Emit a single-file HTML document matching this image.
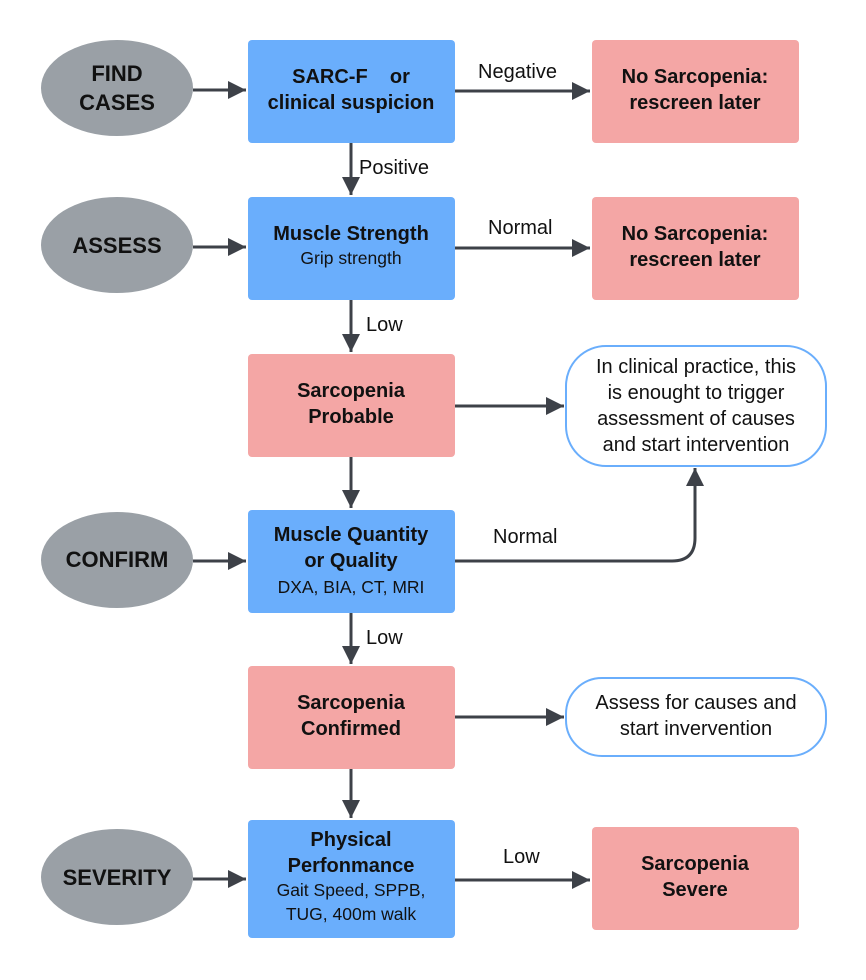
<!DOCTYPE html>
<html><head><meta charset="utf-8"><style>body{margin:0;background:#fff}svg{display:block}</style></head><body>
<svg width="866" height="980" xmlns="http://www.w3.org/2000/svg" font-family="Liberation Sans, sans-serif">
<defs>
<marker id="b" viewBox="0 0 10 10" markerWidth="18" markerHeight="18" refX="10" refY="5" orient="auto" markerUnits="userSpaceOnUse"><path d="M0,0 L10,5 L0,10 z" fill="#3d4148"/></marker></defs>
<g fill="#9aa0a6">
<ellipse cx="117" cy="88" rx="76" ry="48"/><ellipse cx="117" cy="245" rx="76" ry="48"/><ellipse cx="117" cy="560" rx="76" ry="48"/><ellipse cx="117" cy="877" rx="76" ry="48"/></g>
<g fill="#6aaefc">
<rect x="248" y="40" width="207" height="103" rx="4"/><rect x="248" y="197" width="207" height="103" rx="4"/><rect x="248" y="510" width="207" height="103" rx="4"/><rect x="248" y="820" width="207" height="118" rx="4"/></g>
<g fill="#f4a6a5">
<rect x="592" y="40" width="207" height="103" rx="4"/><rect x="592" y="197" width="207" height="103" rx="4"/><rect x="248" y="354" width="207" height="103" rx="4"/><rect x="248" y="666" width="207" height="103" rx="4"/><rect x="592" y="827" width="207" height="103" rx="4"/></g>
<g fill="#fff" stroke="#6aaefc" stroke-width="2">
<rect x="566" y="346" width="260" height="120" rx="40"/><rect x="566" y="678" width="260" height="78" rx="36"/></g>
<g stroke="#3d4148" stroke-width="3" fill="none" marker-end="url(#b)">
<line x1="193" y1="90" x2="246" y2="90"/><line x1="193" y1="247" x2="246" y2="247"/><line x1="193" y1="561" x2="246" y2="561"/><line x1="193" y1="879" x2="246" y2="879"/>
<line x1="455" y1="91" x2="590" y2="91"/><line x1="455" y1="248" x2="590" y2="248"/><line x1="455" y1="880" x2="590" y2="880"/>
<line x1="455" y1="406" x2="564" y2="406"/><line x1="455" y1="717" x2="564" y2="717"/>
<line x1="351" y1="143" x2="351" y2="195"/><line x1="351" y1="300" x2="351" y2="352"/><line x1="351" y1="457" x2="351" y2="508"/><line x1="351" y1="613" x2="351" y2="664"/><line x1="351" y1="769" x2="351" y2="818"/>
<path d="M455,561 H672 Q695,561 695,538 V468"/></g>
<g font-weight="bold" font-size="22" text-anchor="middle" fill="#111">
<text x="117" y="81">FIND</text><text x="117" y="110">CASES</text><text x="117" y="253">ASSESS</text><text x="117" y="567">CONFIRM</text><text x="117" y="885">SEVERITY</text></g>
<g font-weight="bold" font-size="20" text-anchor="middle" fill="#111">
<text x="351" y="83">SARC-F &#160;&#160; or</text><text x="351" y="109">clinical suspicion</text>
<text x="351" y="240">Muscle Strength</text>
<text x="695" y="83">No Sarcopenia:</text><text x="695" y="109">rescreen later</text>
<text x="695" y="240">No Sarcopenia:</text><text x="695" y="266">rescreen later</text>
<text x="351" y="397">Sarcopenia</text><text x="351" y="423">Probable</text>
<text x="351" y="541">Muscle Quantity</text><text x="351" y="567">or Quality</text>
<text x="351" y="846">Physical</text><text x="351" y="872">Perfonmance</text>
<text x="351" y="709">Sarcopenia</text><text x="351" y="735">Confirmed</text>
<text x="695" y="870">Sarcopenia</text><text x="695" y="896">Severe</text></g>
<g font-size="17.5" text-anchor="middle" fill="#111">
<text x="351" y="264">Grip strength</text><text x="351" y="593">DXA, BIA, CT, MRI</text>
<text x="351" y="896">Gait Speed, SPPB,</text><text x="351" y="920">TUG, 400m walk</text></g>
<g font-size="20" fill="#111">
<text x="478" y="78">Negative</text><text x="359" y="174">Positive</text><text x="488" y="234">Normal</text><text x="366" y="331">Low</text>
<text x="493" y="543">Normal</text><text x="366" y="644">Low</text><text x="503" y="863">Low</text></g>
<g font-size="20" text-anchor="middle" fill="#111">
<text x="696" y="373">In clinical practice, this</text><text x="696" y="399">is enought to trigger</text><text x="696" y="425">assessment of causes</text><text x="696" y="451">and start intervention</text>
<text x="696" y="709">Assess for causes and</text><text x="696" y="735">start invervention</text></g>
</svg>
</body></html>
